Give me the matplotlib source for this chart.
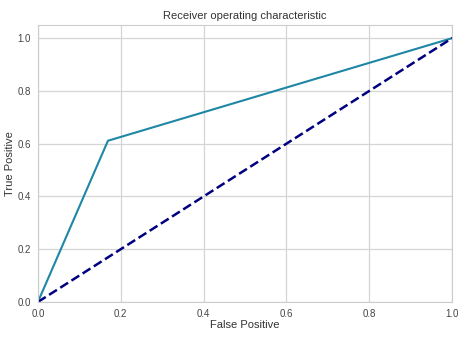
import matplotlib
matplotlib.use("Agg")
import matplotlib.pyplot as plt
import seaborn as sns

fpr = [0.0, 0.169, 1.0]
tpr = [0.0, 0.611, 1.0]
chance = [0.0, 1.0]

sns.set_style("whitegrid")
plt.rcParams['font.family'] = ['Liberation Sans', 'DejaVu Sans']

fig = plt.figure(figsize=(4.74, 3.37), dpi=100)
ax = fig.add_axes([0.080, 0.104, 0.874, 0.822])

ax.plot(fpr, tpr, color="#1f86a6", lw=1.5)
ax.plot(chance, chance, color="navy", lw=1.8, linestyle="--")

ax.set_xlim(0.0, 1.0)
ax.set_ylim(0.0, 1.05)
ax.set_xticks([0.0, 0.2, 0.4, 0.6, 0.8, 1.0])
ax.set_yticks([0.0, 0.2, 0.4, 0.6, 0.8, 1.0])
ax.tick_params(labelsize=7, colors="#444444", pad=1.5)
ax.set_xlabel("False Positive", fontsize=8, color="#333333", labelpad=1)
ax.set_ylabel("True Positive", fontsize=8, color="#333333", labelpad=2)
ax.set_title("Receiver operating characteristic", fontsize=8, color="#333333", pad=4)
for s in ax.spines.values():
    s.set_color("#cccccc")
ax.grid(color="#d5d5d5", lw=0.9)

fig.savefig("out.png", dpi=100)
